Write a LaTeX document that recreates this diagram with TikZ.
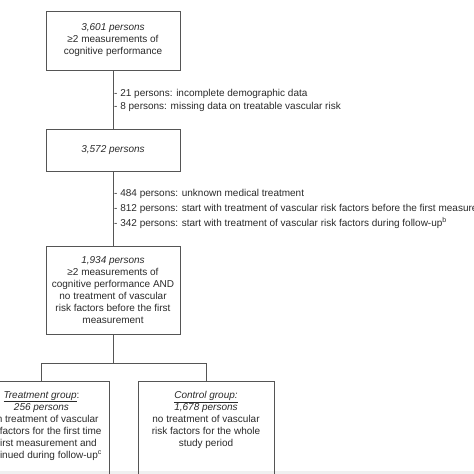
\documentclass[tikz,border=0pt]{standalone}
\usepackage{fontspec}
\setmainfont{Liberation Sans}
\definecolor{linec}{HTML}{555555}
\definecolor{textc}{HTML}{2A2A2A}
\begin{document}
\begin{tikzpicture}[x=1pt,y=-1pt,
  boxstyle/.style={draw=linec, line width=0.9pt, rectangle, inner sep=0pt, text=textc, align=center, font=\fontsize{10}{12}\selectfont},
  txtstyle/.style={inner sep=0pt, text=textc, align=center, font=\fontsize{10}{12}\selectfont},
  lblstyle/.style={inner sep=0pt, text=textc, align=left, anchor=west},
  conn/.style={draw=linec, line width=0.9pt}]
\useasboundingbox (0,0) rectangle (474,474);
\clip (0,0) rectangle (474,474);
\fill[black!6] (0,471) rectangle (474,474);
% boxes
\node[boxstyle, minimum width=134, minimum height=59] (b1) at (113,40.5)
  {\textit{3,601 persons}\\≥2 measurements of\\cognitive performance};
\node[boxstyle, minimum width=134, minimum height=42] (b2) at (113,150)
  {\textit{3,572 persons}};
\node[boxstyle, minimum width=134, minimum height=88] (b3) at (113,290)
  {\textit{1,934 persons}\\≥2 measurements of\\cognitive performance AND\\no treatment of vascular\\risk factors before the first\\measurement};
\node[boxstyle, minimum width=136, minimum height=120, anchor=north] (lb) at (41,381) {};
\node[boxstyle, minimum width=136, minimum height=120, anchor=north] (rb) at (206,381) {};
\node[txtstyle, anchor=north] (lt) at (41.5,391)
  {\underline{\textit{Treatment group}}:\\\textit{256 persons}\\with treatment of vascular\\risk factors for the first time\\at first measurement and\\continued during follow-up\textsuperscript{c}};
\node[txtstyle, anchor=north] (rt) at (206,391)
  {\underline{\textit{Control group:}}\\\textit{1,678 persons}\\no treatment of vascular\\risk factors for the whole\\study period};
% connectors
\draw[conn] (b1.south) -- (b2.north);
\draw[conn] (b2.south) -- (b3.north);
\coordinate (j) at (113,363);
\draw[conn] (b3.south) -- (j);
\draw[conn] (j) -| (lb.north);
\draw[conn] (j) -| (rb.north);
% labels
\node[lblstyle, font=\fontsize{10}{12.5}\selectfont] (l1) at (114,100.5)
  {- 21 persons: incomplete demographic data\\- 8 persons: missing data on treatable vascular risk};
\node[lblstyle, font=\fontsize{10}{15}\selectfont] (l2) at (114,208.5)
  {- 484 persons: unknown medical treatment\\- 812 persons: start with treatment of vascular risk factors before the first measurement\textsuperscript{a}\\- 342 persons: start with treatment of vascular risk factors during follow-up\textsuperscript{b}};
\end{tikzpicture}
\end{document}
